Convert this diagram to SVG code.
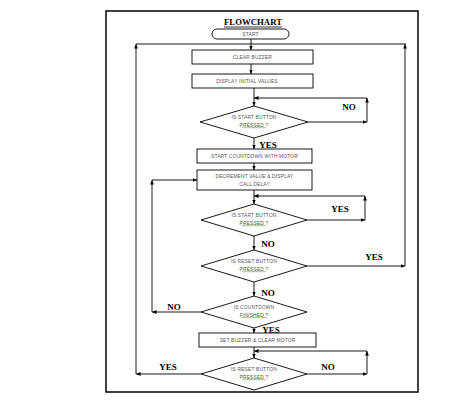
<svg xmlns="http://www.w3.org/2000/svg" width="474" height="401" viewBox="0 0 474 401">
<style>
.box{fill:#fff;stroke:#000;stroke-width:0.9}
.t{font-family:"Liberation Sans",Arial,sans-serif;font-size:4.9px;letter-spacing:0.15px;fill:#555;text-anchor:middle}
.g{font-family:"Liberation Sans",Arial,sans-serif;font-size:4.9px;letter-spacing:0.15px;fill:#4a5a30;text-anchor:middle}
.sq{stroke:#6aa040;stroke-width:0.6;fill:none}
.lbl{font-family:"Liberation Serif","Times New Roman",serif;font-size:9px;font-weight:bold;fill:#000;text-anchor:middle}
.c{stroke:#000;stroke-width:0.9;fill:none}
.a{stroke:#000;stroke-width:0.9;fill:none;marker-end:url(#ah)}
</style>
<defs>
<marker id="ah" markerUnits="userSpaceOnUse" markerWidth="5" markerHeight="5" refX="4.5" refY="2.5" orient="auto">
<path d="M0,0.6 L4.5,2.5 L0,4.4 Z" fill="#000"/>
</marker>
</defs>
<rect width="474" height="401" fill="#fff"/>
<rect x="106" y="11" width="312" height="381" fill="none" stroke="#000" stroke-width="1.5"/>
<g id="title">
<text x="253" y="25" class="lbl" font-size="9.5" textLength="58" lengthAdjust="spacingAndGlyphs">FLOWCHART</text>
<line x1="224" y1="27" x2="282" y2="27" stroke="#000" stroke-width="0.8"/>
</g>
<g id="connectors">
<line class="c" x1="136" y1="44" x2="406" y2="44"/>
<line class="a" x1="251" y1="39" x2="251" y2="50"/>
<line class="a" x1="251" y1="64" x2="251" y2="74"/>
<line class="a" x1="254" y1="88" x2="254" y2="106"/>
<line class="a" x1="308" y1="122" x2="367" y2="122"/>
<line class="a" x1="367" y1="122" x2="367" y2="98"/>
<line class="a" x1="367" y1="98" x2="254" y2="98"/>
<line class="a" x1="254" y1="138" x2="254" y2="149"/>
<line class="a" x1="254" y1="163" x2="254" y2="170"/>
<line class="a" x1="254" y1="190" x2="254" y2="204"/>
<line class="a" x1="307" y1="220" x2="365" y2="220"/>
<line class="a" x1="365" y1="220" x2="365" y2="196"/>
<line class="a" x1="365" y1="196" x2="254" y2="196"/>
<line class="a" x1="254" y1="236" x2="254" y2="250"/>
<line class="a" x1="307" y1="266" x2="405" y2="266"/>
<line class="a" x1="405" y1="266" x2="405" y2="44"/>
<line class="a" x1="254" y1="282" x2="254" y2="296"/>
<line class="a" x1="201" y1="312" x2="152" y2="312"/>
<line class="a" x1="152" y1="312" x2="152" y2="180"/>
<line class="a" x1="152" y1="180" x2="197" y2="180"/>
<line class="a" x1="254" y1="328" x2="254" y2="333"/>
<line class="a" x1="254" y1="347" x2="254" y2="358"/>
<line class="a" x1="307" y1="374" x2="367" y2="374"/>
<line class="a" x1="367" y1="374" x2="367" y2="351"/>
<line class="a" x1="367" y1="351" x2="254" y2="351"/>
<line class="a" x1="201" y1="374" x2="136" y2="374"/>
<line class="a" x1="136" y1="374" x2="136" y2="44"/>
</g>
<g id="start">
<rect class="box" x="212" y="29" width="77" height="10" rx="5"/>
<text class="t" x="250.5" y="35.8">START</text>
</g>
<g id="clear-buzzer">
<rect class="box" x="192" y="50" width="121" height="14"/>
<text class="t" x="252.5" y="58.7">CLEAR BUZZER</text>
</g>
<g id="display-initial">
<rect class="box" x="192" y="74" width="121" height="14"/>
<text class="t" x="247" y="82.7">DISPLAY INITIAL VALUES</text>
</g>
<g id="dec1">
<polygon class="box" points="254,106 308,122 254,138 200,122"/>
<text class="t" x="254" y="119">IS START BUTTON</text>
<text class="g" x="254" y="126.5">PRESSED ?</text>
<line class="sq" x1="242" y1="127.7" x2="266" y2="127.7"/>
</g>
<g id="countdown">
<rect class="box" x="197" y="149" width="115" height="14"/>
<text class="t" x="254.5" y="157.7">START COUNTDOWN WITH MOTOR</text>
</g>
<g id="decrement">
<rect class="box" x="197" y="170" width="115" height="20"/>
<text class="t" x="254.5" y="178">DECREMENT  VALUE &amp; DISPLAY</text>
<text class="t" x="254.5" y="185.5">CALL DELAY</text>
</g>
<g id="dec2">
<polygon class="box" points="254,204 307,220 254,236 201,220"/>
<text class="t" x="254" y="217">IS START BUTTON</text>
<text class="g" x="254" y="224.5">PRESSED ?</text>
<line class="sq" x1="242" y1="225.7" x2="266" y2="225.7"/>
</g>
<g id="dec3">
<polygon class="box" points="254,250 307,266 254,282 201,266"/>
<text class="t" x="254" y="263">IS RESET BUTTON</text>
<text class="g" x="254" y="270.5">PRESSED ?</text>
<line class="sq" x1="242" y1="271.7" x2="266" y2="271.7"/>
</g>
<g id="dec4">
<polygon class="box" points="254,296 307,312 254,328 201,312"/>
<text class="t" x="254" y="309">IS COUNTDOWN</text>
<text class="g" x="254" y="316.5">FINISHED ?</text>
<line class="sq" x1="241" y1="317.7" x2="267" y2="317.7"/>
</g>
<g id="set-buzzer">
<rect class="box" x="199" y="333" width="117" height="14"/>
<text class="t" x="257.5" y="341.7">SET BUZZER &amp; CLEAR MOTOR</text>
</g>
<g id="dec5">
<polygon class="box" points="254,358 307,374 254,390 201,374"/>
<text class="t" x="254" y="371">IS RESET BUTTON</text>
<text class="g" x="254" y="378.5">PRESSED ?</text>
<line class="sq" x1="242" y1="379.7" x2="266" y2="379.7"/>
</g>
<g id="labels">
<text class="lbl" x="349" y="110">NO</text>
<text class="lbl" x="268" y="148">YES</text>
<text class="lbl" x="340" y="212">YES</text>
<text class="lbl" x="268" y="247">NO</text>
<text class="lbl" x="374" y="260">YES</text>
<text class="lbl" x="268" y="296">NO</text>
<text class="lbl" x="174" y="310">NO</text>
<text class="lbl" x="271" y="333">YES</text>
<text class="lbl" x="328" y="370">NO</text>
<text class="lbl" x="168" y="370">YES</text>
</g>
</svg>
